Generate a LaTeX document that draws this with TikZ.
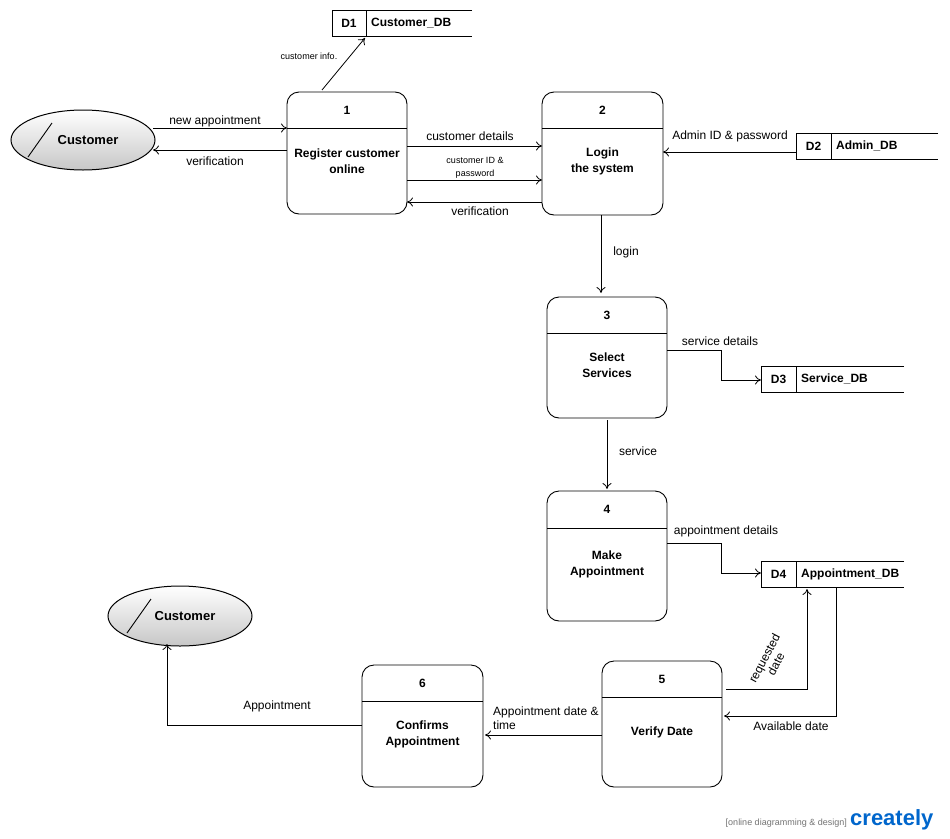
\documentclass[tikz,border=0pt]{standalone}
\usepackage{fontspec}
\setmainfont{Liberation Sans}
\usetikzlibrary{arrows.meta,shapes.geometric}
\begin{document}
\begin{tikzpicture}[x=1pt,y=-1pt,
  every node/.style={font=\fontsize{12}{14}\selectfont, inner sep=0pt},
  arr/.style={draw=black,line width=0.8pt,-{To[length=6pt,width=9pt]}},
  proc/.style={draw=black,line width=0.9pt,rounded corners=12pt},
  hl/.style={draw=black,line width=0.9pt},
  bold/.style={font=\fontsize{12}{16}\selectfont\bfseries,align=center},
  lbl/.style={font=\fontsize{12}{14}\selectfont},
  sm/.style={font=\fontsize{9}{13}\selectfont,align=center},
  ent/.style={ellipse,draw=black,line width=1pt,minimum width=144pt,minimum height=60pt,top color=white,bottom color=black!22,font=\fontsize{13}{15}\selectfont\bfseries}]
\useasboundingbox (0,0) rectangle (950,838);
% entities
\node[ent] (c1) at (83,140) {\hspace{10pt}Customer};
\draw[line width=0.9pt] (28,157) -- (52,123);
\node[ent] (c2) at (180,616) {\hspace{10pt}Customer};
\draw[line width=0.9pt] (127,633) -- (151,599);
% processes
\newcommand{\proc}[7]{%
 \draw[proc] (#1,#2) rectangle (#3,#4);
 \draw[hl] (#1,#5) -- (#3,#5);
 \node[bold] (#6) at ({(#1+#3)/2},{(#2+#5)/2}) {#6};
 \node[bold] at ({(#1+#3)/2},{(#5+#4)/2-10}) {#7};
 \coordinate (p#6) at ({(#1+#3)/2},{(#2+#4)/2});}
\proc{287}{92}{407}{214}{128}{1}{Register customer\\online}
\proc{542}{92}{663}{215}{128}{2}{Login\\the system}
\proc{547}{297}{667}{418}{333}{3}{Select\\Services}
\proc{547}{491}{667}{621}{528}{4}{Make\\Appointment}
\proc{602}{661}{722}{787}{697}{5}{Verify Date}
\proc{362}{665}{483}{787}{701}{6}{Confirms\\Appointment}
% data stores
\newcommand{\store}[6]{%
 \draw[hl] (#3,#2) -- (#1,#2) -- (#1,#2+26) -- (#3,#2+26);
 \draw[hl] (#4,#2) -- (#4,#2+26);
 \node[font=\fontsize{12}{14}\selectfont\bfseries] (#5) at ({(#1+#4)/2},#2+13) {#5};
 \node[font=\fontsize{12}{14}\selectfont\bfseries,anchor=west] at (#4+5,#2+13) {#6};}
\store{332}{10}{472}{366}{D1}{Customer\_DB}
\store{796}{133}{938}{831}{D2}{Admin\_DB}
\store{761}{366}{904}{796}{D3}{Service\_DB}
\store{761}{561}{904}{796}{D4}{Appointment\_DB}
% flows
\draw[arr] (153,128) -- (287,128);
\node[lbl] at (215,121) {new appointment};
\draw[arr] (287,150) -- (153,150);
\node[lbl] at (215,161) {verification};
\draw[arr] (322,90) -- (365,38);
\node[font=\fontsize{9}{11}\selectfont] at (309,56) {customer info.};
\draw[arr] (407,146) -- (542,146);
\node[lbl] at (470,136) {customer details};
\draw[arr] (407,180) -- (542,180);
\node[sm] at (475,168) {customer ID \&\\password};
\draw[arr] (542,202) -- (407,202);
\node[lbl] at (480,211) {verification};
\draw[arr] (796,152) -- (663,152);
\node[lbl] at (730,136) {Admin ID \& password};
\draw[arr] (601,215) -- (601,293);
\node[lbl] at (626,252) {login};
\draw[arr] (667,350) -- (721,350) -- (721,380) -- (761,380);
\node[lbl] at (720,341) {service details};
\draw[arr] (607,420) -- (607,489);
\node[lbl] at (638,451) {service};
\draw[arr] (667,543) -- (721,543) -- (721,573) -- (761,573);
\node[lbl] at (726,531) {appointment details};
\draw[arr] (726,689) -- (807,689) -- (807,589);
\node[lbl,rotate=62,align=center,font=\fontsize{12}{13}\selectfont] at (770,661) {requested\\date};
\draw[arr] (836,588) -- (836,716) -- (724,716);
\node[lbl] at (791,726) {Available date};
\draw[arr] (602,735) -- (485,735);
\node[lbl,align=left,anchor=west] at (493,718) {Appointment date \&\\time};
\draw[arr] (362,725) -- (167,725) -- (167,644);
\node[lbl] at (277,706) {Appointment};
% logo
\node[font=\fontsize{9}{11}\selectfont,text=black!55,anchor=east] at (847,823) {[online diagramming \& design]};
\node[font=\fontsize{22}{24}\selectfont\bfseries,text=blue!50!cyan!80!black,anchor=west] at (850,820) {creately};
\end{tikzpicture}
\end{document}
